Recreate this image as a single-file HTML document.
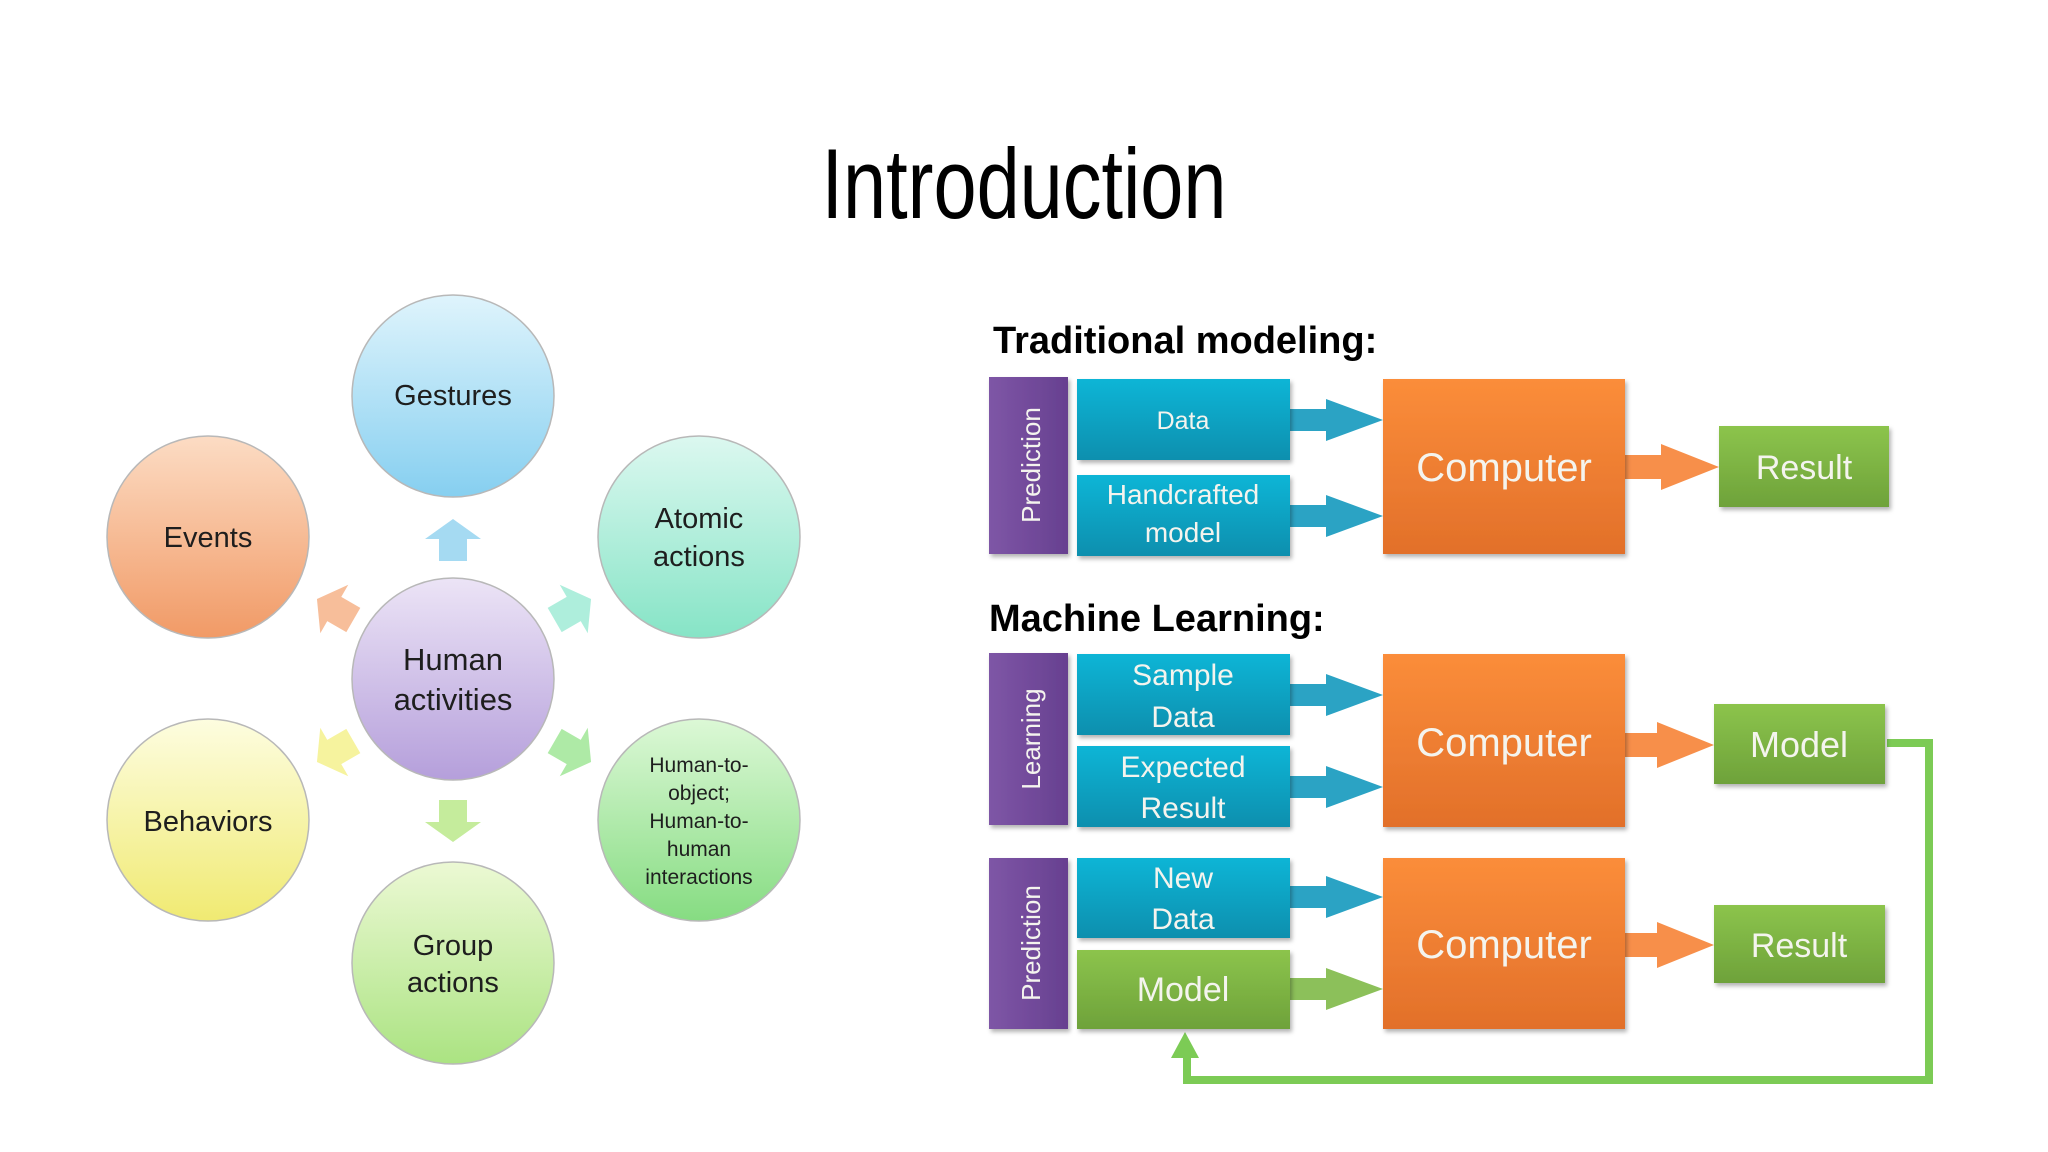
<!DOCTYPE html>
<html><head><meta charset="utf-8"><style>html,body{margin:0;padding:0;background:#fff}svg{display:block}</style></head>
<body>
<svg width="2048" height="1152" viewBox="0 0 2048 1152" xmlns="http://www.w3.org/2000/svg" font-family="'Liberation Sans', 'DejaVu Sans', sans-serif">
<defs>
<linearGradient id="gBlueC" x1="0" y1="0" x2="0" y2="1"><stop offset="0" stop-color="#dff4fc"/><stop offset="1" stop-color="#86cff0"/></linearGradient>
<linearGradient id="gOrC" x1="0" y1="0" x2="0" y2="1"><stop offset="0" stop-color="#fcdcc4"/><stop offset="1" stop-color="#f19a66"/></linearGradient>
<linearGradient id="gTealC" x1="0" y1="0" x2="0" y2="1"><stop offset="0" stop-color="#dcf8f0"/><stop offset="1" stop-color="#86e4c6"/></linearGradient>
<linearGradient id="gPurC" x1="0" y1="0" x2="0" y2="1"><stop offset="0" stop-color="#ece4f6"/><stop offset="1" stop-color="#b59fdb"/></linearGradient>
<linearGradient id="gYelC" x1="0" y1="0" x2="0" y2="1"><stop offset="0" stop-color="#fdfde0"/><stop offset="1" stop-color="#f0ea72"/></linearGradient>
<linearGradient id="gGrnC" x1="0" y1="0" x2="0" y2="1"><stop offset="0" stop-color="#dcf8d6"/><stop offset="1" stop-color="#86dc82"/></linearGradient>
<linearGradient id="gLimC" x1="0" y1="0" x2="0" y2="1"><stop offset="0" stop-color="#ecf9d4"/><stop offset="1" stop-color="#abe382"/></linearGradient>
<linearGradient id="gBox" x1="0" y1="0" x2="0" y2="1"><stop offset="0" stop-color="#0bb5d6"/><stop offset="1" stop-color="#0c8fae"/></linearGradient>
<linearGradient id="gComp" x1="0" y1="0" x2="0" y2="1"><stop offset="0" stop-color="#fb8d3a"/><stop offset="1" stop-color="#e2702a"/></linearGradient>
<linearGradient id="gGreen" x1="0" y1="0" x2="0" y2="1"><stop offset="0" stop-color="#8cc44c"/><stop offset="1" stop-color="#6ea23a"/></linearGradient>
<linearGradient id="gPurple" x1="0" y1="0" x2="1" y2="0"><stop offset="0" stop-color="#7e56a6"/><stop offset="1" stop-color="#674090"/></linearGradient>
<filter id="sh" x="-10%" y="-10%" width="125%" height="130%"><feDropShadow dx="2" dy="3" stdDeviation="2" flood-color="#000" flood-opacity="0.3"/></filter>
</defs>

<text x="1024" y="218" font-size="99" text-anchor="middle" textLength="405" lengthAdjust="spacingAndGlyphs" fill="#000">Introduction</text>

<!-- left diagram -->
<g stroke="#b8b8b8" stroke-width="1.5">
<circle cx="453" cy="396" r="101" fill="url(#gBlueC)"/>
<circle cx="208" cy="537" r="101" fill="url(#gOrC)"/>
<circle cx="699" cy="537" r="101" fill="url(#gTealC)"/>
<circle cx="453" cy="679" r="101" fill="url(#gPurC)"/>
<circle cx="208" cy="820" r="101" fill="url(#gYelC)"/>
<circle cx="699" cy="820" r="101" fill="url(#gGrnC)"/>
<circle cx="453" cy="963" r="101" fill="url(#gLimC)"/>
</g>
<g font-size="29" fill="#1e1e1e" text-anchor="middle">
<text x="453" y="405">Gestures</text>
<text x="208" y="547">Events</text>
<text x="699" y="528">Atomic</text><text x="699" y="566">actions</text>
<text x="453" y="670" font-size="31">Human</text><text x="453" y="710" font-size="31">activities</text>
<text x="208" y="831">Behaviors</text>
<text x="453" y="955">Group</text><text x="453" y="992">actions</text>
<g font-size="21"><text x="699" y="772">Human-to-</text><text x="699" y="800">object;</text><text x="699" y="828">Human-to-</text><text x="699" y="856">human</text><text x="699" y="884">interactions</text></g>
</g>
<g>
<polygon transform="translate(453,541)" points="0,-22 28,-2 14,-2 14,20 -14,20 -14,-2 -28,-2" fill="#a5daf2"/>
<polygon transform="translate(453,820) rotate(180)" points="0,-22 28,-2 14,-2 14,20 -14,20 -14,-2 -28,-2" fill="#c5ec9c"/>
<polygon transform="translate(336,610) rotate(-60)" points="0,-22 28,-2 14,-2 14,20 -14,20 -14,-2 -28,-2" fill="#f7be9a"/>
<polygon transform="translate(572,610) rotate(60)" points="0,-22 28,-2 14,-2 14,20 -14,20 -14,-2 -28,-2" fill="#aeeedc"/>
<polygon transform="translate(336,751) rotate(-120)" points="0,-22 28,-2 14,-2 14,20 -14,20 -14,-2 -28,-2" fill="#f6f39e"/>
<polygon transform="translate(572,751) rotate(120)" points="0,-22 28,-2 14,-2 14,20 -14,20 -14,-2 -28,-2" fill="#aeeaa6"/>
</g>

<!-- right diagram -->
<g font-weight="bold" font-size="38" fill="#000">
<text x="993" y="353">Traditional modeling:</text>
<text x="989" y="631">Machine Learning:</text>
</g>

<!-- arrows -->
<g fill="#2ba3c4">
<polygon points="1290,409 1326,409 1326,399 1383,420 1326,441 1326,431 1290,431"/>
<polygon points="1290,505 1326,505 1326,495 1383,516 1326,537 1326,527 1290,527"/>
<polygon points="1290,684 1326,684 1326,674 1383,695 1326,716 1326,706 1290,706"/>
<polygon points="1290,776 1326,776 1326,766 1383,787 1326,808 1326,798 1290,798"/>
<polygon points="1290,886 1326,886 1326,876 1383,897 1326,918 1326,908 1290,908"/>
</g>
<polygon points="1290,978 1326,978 1326,968 1383,989 1326,1010 1326,1000 1290,1000" fill="#8cc05a"/>
<g fill="#f78f4a">
<polygon points="1625,455 1661,455 1661,444 1719,467 1661,490 1661,479 1625,479"/>
<polygon points="1625,733 1657,733 1657,722 1714,745 1657,768 1657,757 1625,757"/>
<polygon points="1625,933 1657,933 1657,922 1714,945 1657,968 1657,957 1625,957"/>
</g>

<!-- feedback line -->
<polyline points="1887,743 1929,743 1929,1080 1187,1080 1187,1056" fill="none" stroke="#7ccb55" stroke-width="8"/>
<polygon points="1185,1032 1171,1058 1199,1058" fill="#7ccb55"/>

<g filter="url(#sh)">
<rect x="989" y="377" width="79" height="177" fill="url(#gPurple)"/>
<rect x="989" y="653" width="79" height="172" fill="url(#gPurple)"/>
<rect x="989" y="858" width="79" height="171" fill="url(#gPurple)"/>
<rect x="1077" y="379" width="213" height="81" fill="url(#gBox)"/>
<rect x="1077" y="475" width="213" height="81" fill="url(#gBox)"/>
<rect x="1077" y="654" width="213" height="81" fill="url(#gBox)"/>
<rect x="1077" y="746" width="213" height="81" fill="url(#gBox)"/>
<rect x="1077" y="858" width="213" height="80" fill="url(#gBox)"/>
<rect x="1077" y="950" width="213" height="79" fill="url(#gGreen)"/>
<rect x="1383" y="379" width="242" height="175" fill="url(#gComp)"/>
<rect x="1383" y="654" width="242" height="173" fill="url(#gComp)"/>
<rect x="1383" y="858" width="242" height="171" fill="url(#gComp)"/>
<rect x="1719" y="426" width="170" height="81" fill="url(#gGreen)"/>
<rect x="1714" y="704" width="171" height="80" fill="url(#gGreen)"/>
<rect x="1714" y="905" width="171" height="78" fill="url(#gGreen)"/>
</g>

<g fill="#f4f4ee" text-anchor="middle">
<text transform="translate(1040,465) rotate(-90)" font-size="26">Prediction</text>
<text transform="translate(1040,739) rotate(-90)" font-size="26">Learning</text>
<text transform="translate(1040,943) rotate(-90)" font-size="26">Prediction</text>
<text x="1183" y="429" font-size="25">Data</text>
<text x="1183" y="504" font-size="28">Handcrafted</text><text x="1183" y="542" font-size="28">model</text>
<text x="1183" y="685" font-size="30">Sample</text><text x="1183" y="727" font-size="30">Data</text>
<text x="1183" y="777" font-size="30">Expected</text><text x="1183" y="818" font-size="30">Result</text>
<text x="1183" y="888" font-size="30">New</text><text x="1183" y="929" font-size="30">Data</text>
<text x="1183" y="1001" font-size="34">Model</text>
<text x="1504" y="481" font-size="40">Computer</text>
<text x="1504" y="756" font-size="40">Computer</text>
<text x="1504" y="958" font-size="40">Computer</text>
<text x="1804" y="479" font-size="34">Result</text>
<text x="1799" y="757" font-size="36">Model</text>
<text x="1799" y="957" font-size="34">Result</text>
</g>
</svg>
</body></html>
